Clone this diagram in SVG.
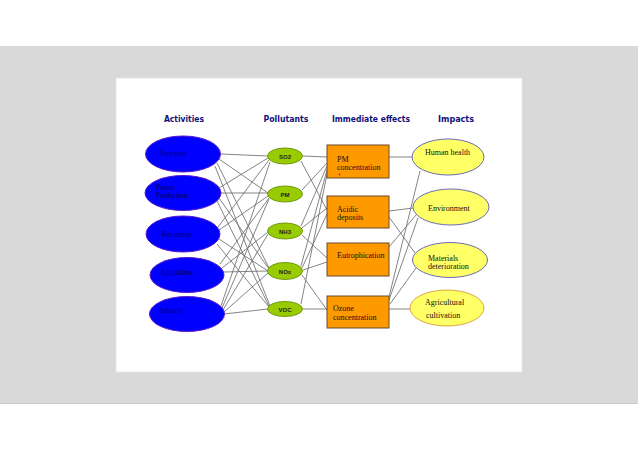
<svg xmlns="http://www.w3.org/2000/svg" width="638" height="451" viewBox="0 0 638 451">
<style>
.hdr{font-family:"DejaVu Sans","Liberation Sans",sans-serif;font-weight:bold;font-size:9.5px;fill:#10107A;text-anchor:middle}
.act{fill:#0000FF;stroke:#5A1ACD;stroke-width:1}
.actt{font-family:"Liberation Serif",serif;font-size:7.2px;fill:#000060}
.pol{fill:#99CC00;stroke:#6F9A10;stroke-width:1}
.polt{font-family:"Liberation Sans",sans-serif;font-weight:bold;font-size:6px;fill:#222;text-anchor:middle}
.eff{fill:#FF9900;stroke:#6A4A28;stroke-width:1}
.efft{font-family:"Liberation Serif",serif;font-size:8px;fill:#111}
.imp{fill:#FFFF66;stroke:#6A6AB8;stroke-width:1}
.impt{font-family:"Liberation Serif",serif;font-size:8px;fill:#111}
.ln{stroke:#6E6E6E;stroke-width:0.85;fill:none}
</style>
<rect x="0" y="0" width="638" height="451" fill="#FFFFFF"/>
<rect x="0" y="46" width="638" height="358" fill="#D9D9D9"/>
<line x1="0" y1="403.5" x2="638" y2="403.5" stroke="#CACACA" stroke-width="1"/>
<rect x="116" y="78" width="406" height="294" fill="#FFFFFF" stroke="#E6E6E6" stroke-width="1"/>

<g id="headers">
<text class="hdr" x="184" y="122" textLength="40" lengthAdjust="spacingAndGlyphs">Activities</text>
<text class="hdr" x="286" y="122" textLength="45" lengthAdjust="spacingAndGlyphs">Pollutants</text>
<text class="hdr" x="371" y="122" textLength="78" lengthAdjust="spacingAndGlyphs">Immediate effects</text>
<text class="hdr" x="456" y="122" textLength="36" lengthAdjust="spacingAndGlyphs">Impacts</text>
</g>

<g id="connectors">
<line class="ln" x1="221" y1="154" x2="268" y2="156"/>
<line class="ln" x1="219" y1="159" x2="268" y2="193"/>
<line class="ln" x1="217" y1="163" x2="269" y2="268"/>
<line class="ln" x1="215" y1="166" x2="270" y2="306"/>
<line class="ln" x1="219" y1="188" x2="268" y2="158"/>
<line class="ln" x1="221" y1="193" x2="268" y2="193"/>
<line class="ln" x1="219" y1="198" x2="269" y2="269"/>
<line class="ln" x1="217" y1="201" x2="269" y2="306"/>
<line class="ln" x1="218" y1="227" x2="269" y2="160"/>
<line class="ln" x1="219" y1="230" x2="268" y2="196"/>
<line class="ln" x1="219" y1="239" x2="268" y2="271"/>
<line class="ln" x1="217" y1="244" x2="269" y2="307"/>
<line class="ln" x1="222" y1="268" x2="268" y2="232"/>
<line class="ln" x1="220" y1="264" x2="269" y2="198"/>
<line class="ln" x1="223" y1="272" x2="268" y2="271"/>
<line class="ln" x1="221" y1="306" x2="270" y2="162"/>
<line class="ln" x1="222" y1="308" x2="269" y2="199"/>
<line class="ln" x1="223" y1="310" x2="268" y2="234"/>
<line class="ln" x1="224" y1="312" x2="268" y2="273"/>
<line class="ln" x1="224" y1="314" x2="268" y2="309"/>
<line class="ln" x1="303" y1="156" x2="327" y2="157"/>
<line class="ln" x1="301" y1="161" x2="327" y2="210"/>
<line class="ln" x1="302" y1="190" x2="327" y2="163"/>
<line class="ln" x1="301" y1="226" x2="327" y2="166"/>
<line class="ln" x1="302" y1="228" x2="327" y2="208"/>
<line class="ln" x1="302" y1="235" x2="327" y2="258"/>
<line class="ln" x1="301" y1="266" x2="327" y2="170"/>
<line class="ln" x1="302" y1="268" x2="327" y2="214"/>
<line class="ln" x1="303" y1="270" x2="327" y2="262"/>
<line class="ln" x1="302" y1="275" x2="327" y2="310"/>
<line class="ln" x1="301" y1="304" x2="327" y2="174"/>
<line class="ln" x1="303" y1="309" x2="327" y2="309"/>
<line class="ln" x1="389" y1="157" x2="412" y2="157"/>
<line class="ln" x1="389" y1="211" x2="413" y2="208"/>
<line class="ln" x1="389" y1="217" x2="415" y2="253"/>
<line class="ln" x1="389" y1="247" x2="416" y2="215"/>
<line class="ln" x1="389" y1="297" x2="420" y2="171"/>
<line class="ln" x1="389" y1="300" x2="418" y2="218"/>
<line class="ln" x1="390" y1="304" x2="416" y2="268"/>
<line class="ln" x1="389" y1="309" x2="410" y2="309"/>
</g>

<g id="act-transport"><ellipse class="act" cx="183" cy="154" rx="37.5" ry="18"/><text class="actt" x="159" y="156">Transport</text></g>
<g id="act-power"><ellipse class="act" cx="183" cy="193" rx="38" ry="17.5"/><text class="actt" x="156" y="190">Power</text><text class="actt" x="156" y="198">Production</text></g>
<g id="act-residence"><ellipse class="act" cx="183" cy="234" rx="37" ry="18"/><text class="actt" x="162" y="237">Residence</text></g>
<g id="act-agriculture"><ellipse class="act" cx="187" cy="275" rx="37" ry="17.5"/><text class="actt" x="160" y="275">Agriculture</text></g>
<g id="act-industry"><ellipse class="act" cx="187" cy="314" rx="37.5" ry="17.5"/><text class="actt" x="159" y="313">Industry</text></g>

<g id="pol-so2"><ellipse class="pol" cx="285" cy="156" rx="17.5" ry="8"/><text class="polt" x="285" y="158.5">SO2</text></g>
<g id="pol-pm"><ellipse class="pol" cx="285" cy="194" rx="17.5" ry="8"/><text class="polt" x="285" y="196.5">PM</text></g>
<g id="pol-nh3"><ellipse class="pol" cx="285" cy="231" rx="17.5" ry="8"/><text class="polt" x="285" y="233.5">NH3</text></g>
<g id="pol-nox"><ellipse class="pol" cx="285" cy="271" rx="17.5" ry="8.5"/><text class="polt" x="285" y="273.5">NOx</text></g>
<g id="pol-voc"><ellipse class="pol" cx="285" cy="309" rx="17.5" ry="7.5"/><text class="polt" x="285" y="311.5">VOC</text></g>

<g id="eff-pm"><rect class="eff" x="327" y="145" width="62" height="33"/><text class="efft" x="337" y="162">PM</text><text class="efft" x="337" y="170">concentration</text><circle cx="339.5" cy="174.5" r="0.9" fill="#E02020"/></g>
<g id="eff-acidic"><rect class="eff" x="327" y="196" width="62" height="32"/><text class="efft" x="337" y="212">Acidic</text><text class="efft" x="337" y="220">deposits</text></g>
<g id="eff-eutro"><rect class="eff" x="327" y="243" width="62" height="33"/><text class="efft" x="337" y="258">Eutrophication</text></g>
<g id="eff-ozone"><rect class="eff" x="327" y="296" width="62" height="32"/><text class="efft" x="333" y="311">Ozone</text><text class="efft" x="333" y="320">concentration</text></g>

<g id="imp-health"><ellipse class="imp" cx="448" cy="157" rx="36" ry="18"/><text class="impt" x="425" y="155">Human health</text></g>
<g id="imp-env"><ellipse class="imp" cx="451" cy="207" rx="38" ry="18"/><text class="impt" x="428" y="211">Environment</text></g>
<g id="imp-materials"><ellipse class="imp" cx="450" cy="260" rx="37.5" ry="17.5"/><text class="impt" x="428" y="261">Materials</text><text class="impt" x="428" y="269">deterioration</text></g>
<g id="imp-agri"><ellipse class="imp" cx="447" cy="308" rx="37" ry="18" style="stroke:#D8A848"/><text class="impt" x="425" y="305">Agricultural</text><text class="impt" x="426" y="318">cultivation</text></g>
</svg>
